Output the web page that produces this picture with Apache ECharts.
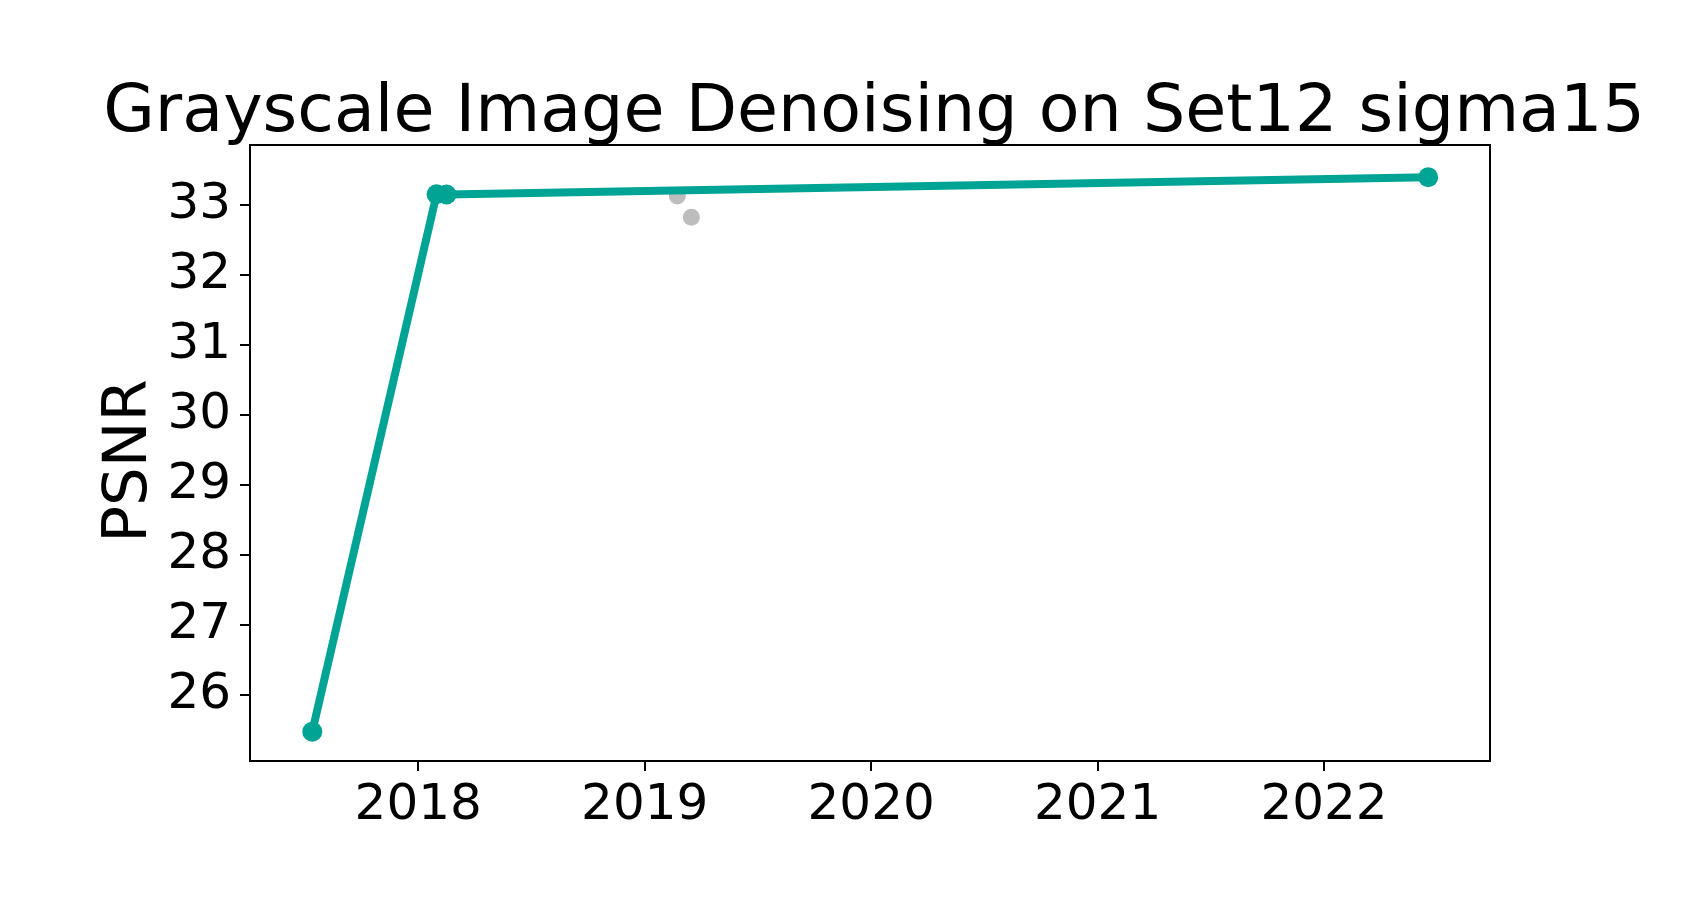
<!DOCTYPE html>
<html>
<head>
<meta charset="utf-8">
<script src="https://cdn.jsdelivr.net/npm/echarts@6/dist/echarts.min.js"></script>
<style>
  html, body { margin: 0; padding: 0; background: #fff; }
  #chart { width: 1700px; height: 900px; }
</style>
</head>
<body>
<div id="chart"></div>
<script>
// best-so-far line (green)
const sotaYears = [2017.532, 2018.081, 2018.125, 2022.46]
const sotaPsnr = [25.476, 33.153, 33.15, 33.396]
// other methods (grey dots)
const otherYears = [2019.144, 2019.206]
const otherPsnr = [33.128, 32.824]
// tick labels
const xTicks = [2018, 2019, 2020, 2021, 2022]
const yTicks = [26, 27, 28, 29, 30, 31, 32, 33]

const FONT = 'DejaVu Sans'
const GREEN = '#00a495'

const zip = (xs, ys) => xs.map((x, i) => [x, ys[i]])

const chart = echarts.init(document.getElementById('chart'))

chart.setOption({
  animation: false,
  title: {
    text: 'Grayscale Image Denoising on Set12 sigma15',
    left: 869,
    top: 75,
    textAlign: 'center',
    textStyle: { fontFamily: FONT, fontSize: 66.7, fontWeight: 'normal', color: '#000' }
  },
  // y axis label placed by hand so it sits where the reference has it
  graphic: [{
    type: 'text',
    x: 130,
    y: 461,
    rotation: Math.PI / 2,
    style: {
      text: 'PSNR',
      font: '61px "DejaVu Sans"',
      fill: '#000',
      align: 'center',
      verticalAlign: 'middle'
    }
  }],
  grid: {
    left: 250, top: 145, width: 1240, height: 616,
    show: true, borderColor: '#000', borderWidth: 2, backgroundColor: '#fff'
  },
  xAxis: {
    type: 'value',
    min: 2017.257,
    max: 2022.733,
    splitLine: { show: false },
    axisLine: { lineStyle: { color: '#000', width: 2 } },
    axisTick: { show: true, length: 10, lineStyle: { color: '#000', width: 2 }, customValues: xTicks },
    axisLabel: {
      customValues: xTicks,
      margin: 20,
      fontFamily: FONT, fontSize: 50, color: '#000',
      formatter: v => String(Math.round(v))
    }
  },
  yAxis: {
    type: 'value',
    min: 25.057,
    max: 33.857,
    splitLine: { show: false },
    axisLine: { show: true, lineStyle: { color: '#000', width: 2 } },
    axisTick: { show: true, length: 10, lineStyle: { color: '#000', width: 2 }, customValues: yTicks },
    axisLabel: {
      customValues: yTicks,
      margin: 19,
      fontFamily: FONT, fontSize: 50, color: '#000'
    }
  },
  series: [
    {
      type: 'scatter',
      data: zip(otherYears, otherPsnr),
      symbolSize: 17,
      itemStyle: { color: '#bdbdbd', opacity: 1 },
      z: 1
    },
    {
      type: 'line',
      data: zip(sotaYears, sotaPsnr),
      symbol: 'circle',
      symbolSize: 20,
      lineStyle: { color: GREEN, width: 8 },
      itemStyle: { color: GREEN },
      z: 2
    }
  ]
})
</script>
</body>
</html>
